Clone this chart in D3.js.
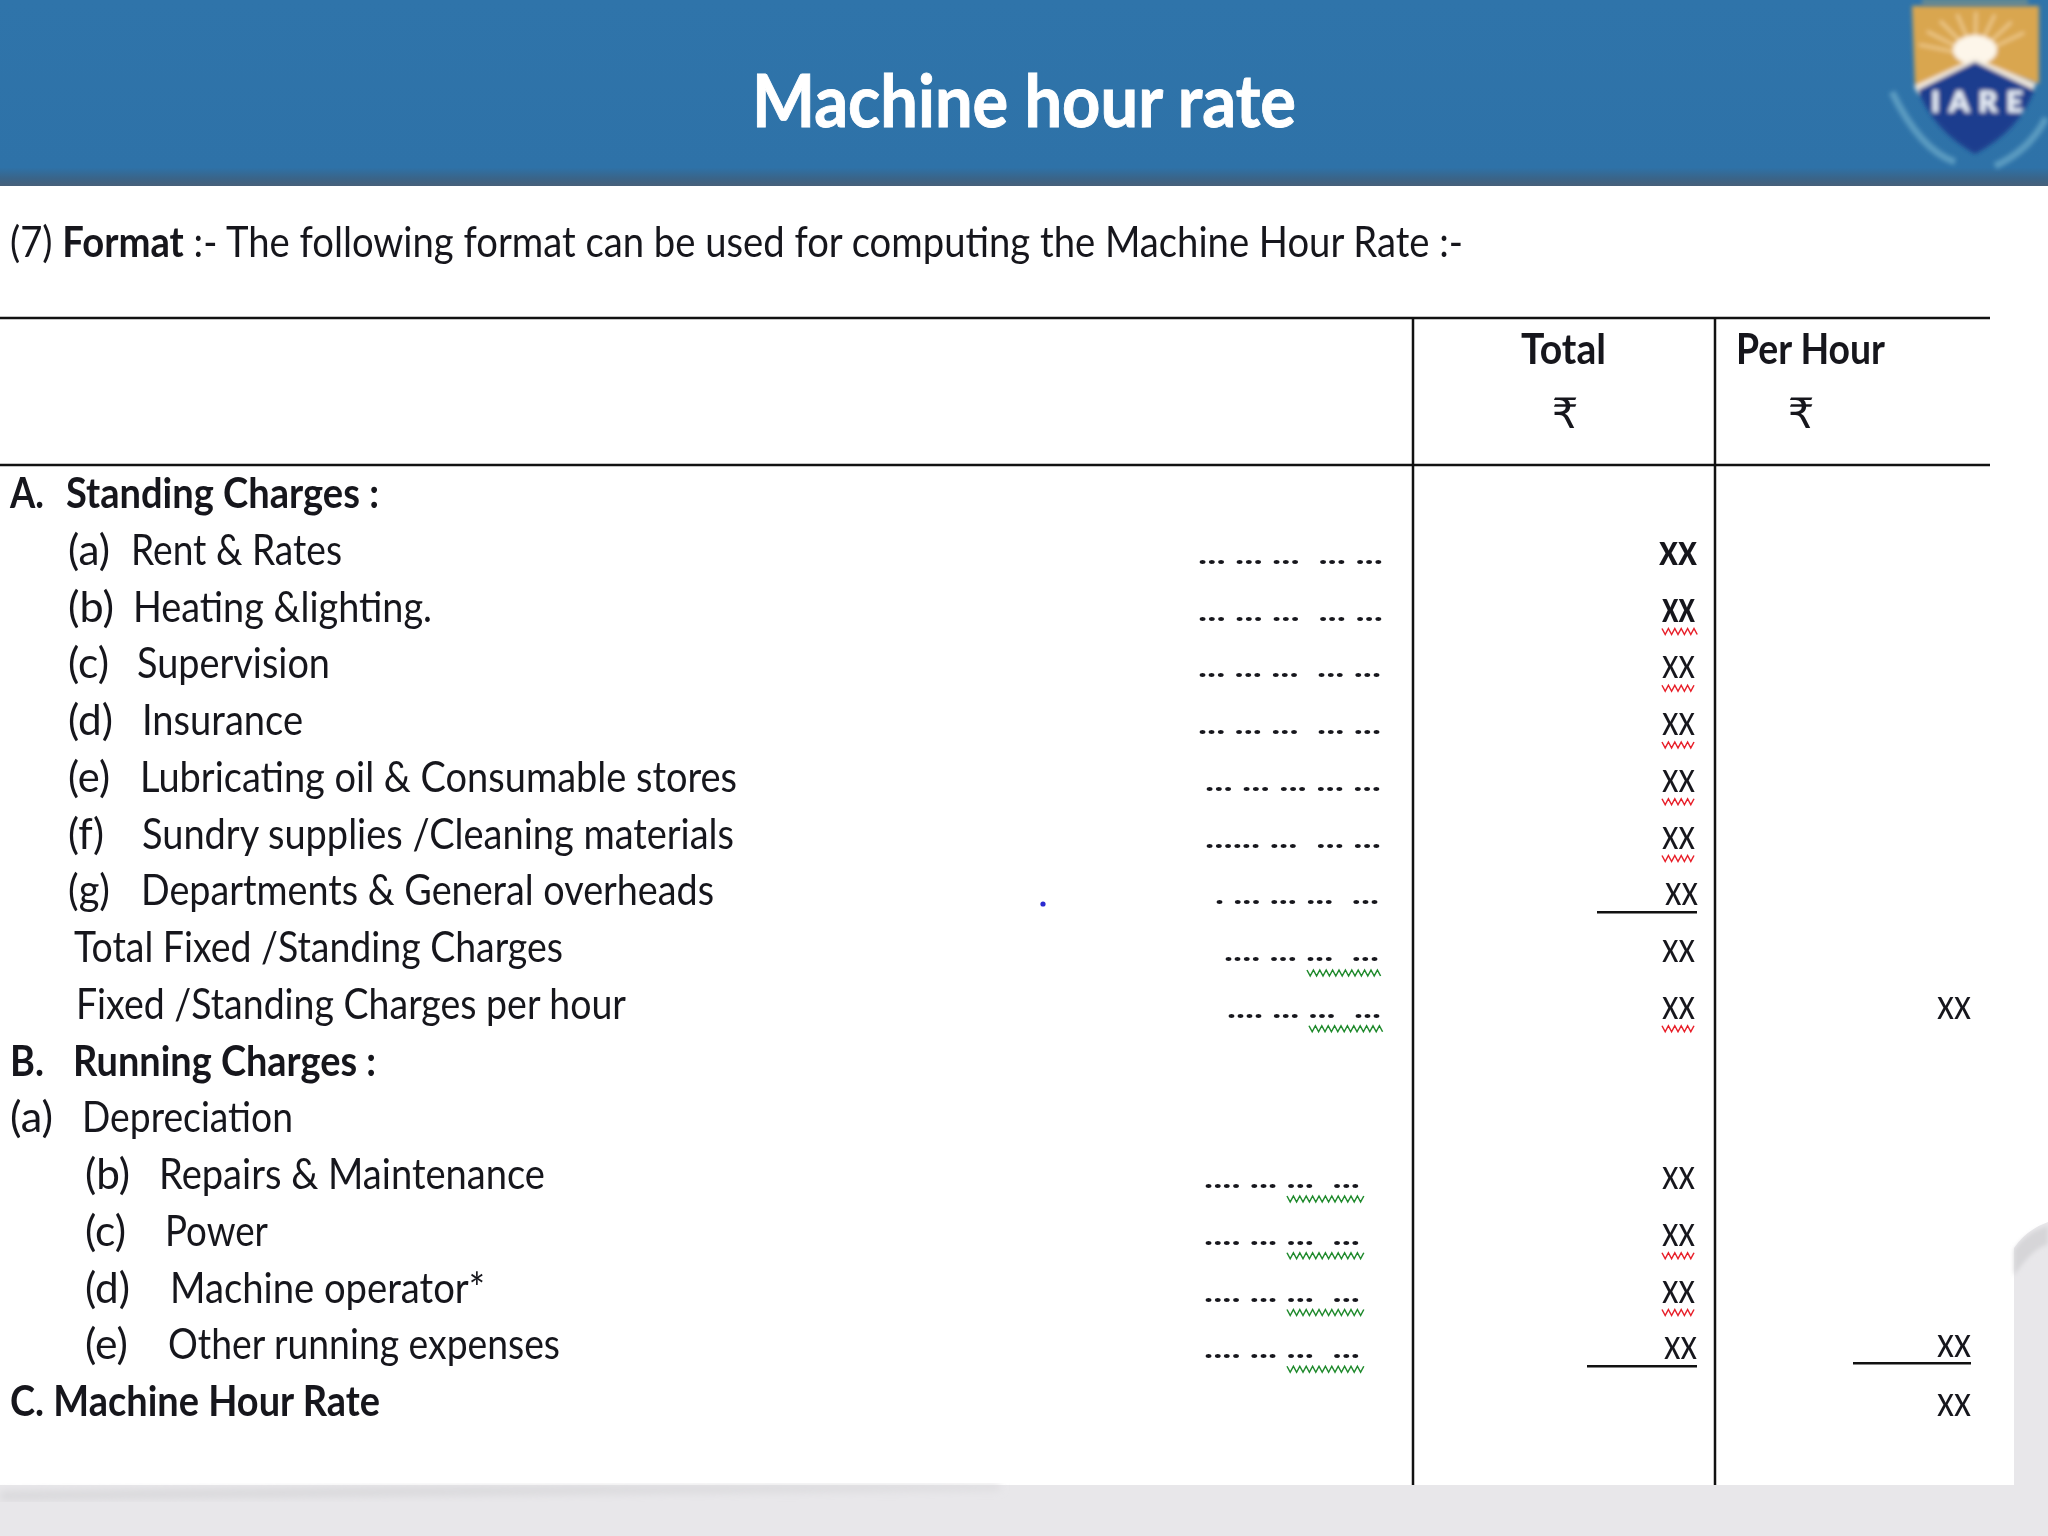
<!DOCTYPE html>
<html>
<head>
<meta charset="utf-8">
<script src="https://cdn.jsdelivr.net/npm/d3@7"></script>
<style>
    html, body { margin: 0; padding: 0; background: #e8e7ea; }
    svg { display: block; }
    text { font-family: Lato, "Noto Sans", sans-serif; fill: #16161c; filter: blur(0.4px); }
</style>
</head>
<body>
<div id="chart"></div>
<script>
const slideTitle = "Machine hour rate";
const columnHeads = ["Total", "Per Hour"];
const currencySign = "₹";

const rowMarkers = ["A.", "(a)", "(b)", "(c)", "(d)", "(e)", "(f)", "(g)", "", "", "B.", "(a)", "(b)", "(c)", "(d)", "(e)", ""];
const rowLabels = [
    "Standing Charges :", "Rent & Rates", "Heating &lighting.", "Supervision", "Insurance",
    "Lubricating oil & Consumable stores", "Sundry supplies /Cleaning materials",
    "Departments & General overheads", "Total Fixed /Standing Charges",
    "Fixed /Standing Charges per hour", "Running Charges :", "Depreciation",
    "Repairs & Maintenance", "Power", "Machine operator*", "Other running expenses",
    "C. Machine Hour Rate"
];
const boldRows = [0, 10, 16];
const dotLeaders = [
    "", "... ... ...  ... ...", "... ... ...  ... ...", "... ... ...  ... ...", "... ... ...  ... ...",
    "... ... ... ... ...", "...... ...  ... ...", ". ... ... ...  ...", ".... ... ...  ...", ".... ... ...  ...",
    "", "", ".... ... ...  ...", ".... ... ...  ...", ".... ... ...  ...", ".... ... ...  ...", ""
];
const totalValues = ["", "xx", "xx", "xx", "xx", "xx", "xx", "xx", "xx", "xx", "", "", "xx", "xx", "xx", "xx", ""];
const perHourValues = ["", "", "", "", "", "", "", "", "", "xx", "", "", "", "", "", "xx", "xx"];
const redSquiggleRows = [2, 3, 4, 5, 6, 9, 13, 14];
const greenSquiggleRows = [8, 9, 12, 13, 14, 15];

// layout
const width = 2048, height = 1536;
const markerX = [10, 68, 68, 68, 68, 68, 68, 68, 0, 0, 10, 10, 85, 85, 85, 85, 0];
const markerEnd = [44, 110, 114, 109, 113, 110, 104, 110, 0, 0, 44, 53, 130, 126, 130, 128, 0];
const labelX = [66, 131, 133, 137, 142, 140, 142, 141, 74, 76, 73, 82, 159, 165, 170, 168, 10];
const labelEnd = [379, 342, 432, 330, 303, 737, 734, 714, 563, 626, 376, 293, 545, 268, 485, 560, 380];
const dotX = [0, 1198, 1198, 1198, 1198, 1205, 1205, 1215, 1224, 1227, 0, 0, 1204, 1204, 1204, 1204, 0];
const dotEnd = [0, 1383, 1383, 1381, 1381, 1381, 1381, 1379, 1379, 1381, 0, 0, 1360, 1360, 1360, 1360, 0];

const y = d3.scaleLinear().domain([0, 16]).range([508, 1416]);

const svg = d3.select("#chart")
    .append("svg")
    .attr("width", width)
    .attr("height", height);

const defs = svg.append("defs");
const headGrad = defs.append("linearGradient").attr("id", "head").attr("x1", 0).attr("x2", 0).attr("y1", 0).attr("y2", 1);
headGrad.append("stop").attr("offset", 0).attr("stop-color", "#2f74aa");
headGrad.append("stop").attr("offset", 0.9).attr("stop-color", "#2e72a8");
headGrad.append("stop").attr("offset", 0.96).attr("stop-color", "#3a6488");
headGrad.append("stop").attr("offset", 1).attr("stop-color", "#47607a");
defs.append("filter").attr("id", "soft").append("feGaussianBlur").attr("stdDeviation", 2.2);
defs.append("filter").attr("id", "softer").append("feGaussianBlur").attr("stdDeviation", 4);

// slide background
svg.append("rect").attr("width", width).attr("height", height).attr("fill", "#e8e7ea");
svg.append("rect").attr("y", 180).attr("width", 2014).attr("height", 1305).attr("fill", "#ffffff");
svg.append("path")
    .attr("d", "M2014,180 H2048 V1222 Q2026,1230 2014,1248 Z")
    .attr("fill", "#ffffff");
svg.append("path")
    .attr("d", "M2014,1250 Q2026,1232 2048,1226 V1244 Q2030,1250 2014,1276 Z")
    .attr("fill", "#d6d5d8")
    .attr("filter", "url(#soft)");
svg.append("path")
    .attr("d", "M0,1492 Q500,1486 1000,1485 L1000,1489 Q500,1494 0,1500 Z")
    .attr("fill", "#d6d5d8")
    .attr("filter", "url(#softer)");

// header band
svg.append("rect").attr("width", width).attr("height", 186).attr("fill", "url(#head)");
svg.append("text")
    .attr("x", 1024).attr("y", 127)
    .attr("text-anchor", "middle")
    .attr("font-size", 72).attr("font-weight", 700)
    .attr("textLength", 544).attr("lengthAdjust", "spacingAndGlyphs")
    .style("fill", "#ffffff")
    .style("stroke", "#ffffff").style("stroke-width", 0.9)
    .text(slideTitle);

// logo
const logo = svg.append("g").attr("filter", "url(#soft)");
logo.append("path")
    .attr("d", "M1892,92 Q1920,150 1955,162 M1995,166 Q2030,150 2046,118")
    .attr("fill", "none").attr("stroke", "#6aa8c8").attr("stroke-width", 7).attr("opacity", 0.75);
logo.append("rect").attr("x", 1922).attr("y", 0).attr("width", 106).attr("height", 3).attr("fill", "#8a9a80");
logo.append("path").attr("d", "M1912,6 H2039 V84 L1975,60 L1915,88 Z").attr("fill", "#d9a650");
d3.range(-75, 76, 19).forEach(a => {
    const r = a * Math.PI / 180;
    logo.append("line")
        .attr("x1", 1975).attr("y1", 56)
        .attr("x2", 1975 + 58 * Math.sin(r)).attr("y2", 56 - 44 * Math.cos(r))
        .attr("stroke", "#eec98a").attr("stroke-width", 3);
});
logo.append("ellipse").attr("cx", 1975).attr("cy", 50).attr("rx", 22).attr("ry", 15).attr("fill", "#fdf6ea");
logo.append("path").attr("d", "M1914,86 L1975,58 L2036,84 L2032,92 L1975,66 L1918,94 Z").attr("fill", "#f4ecdf");
logo.append("path").attr("d", "M1918,90 L1975,62 L2034,90 Q2020,130 1975,154 Q1933,130 1918,90 Z").attr("fill", "#1c3d8e");
logo.append("text")
    .attr("x", 1977).attr("y", 112)
    .attr("text-anchor", "middle")
    .attr("font-size", 29).attr("font-weight", 900)
    .attr("textLength", 92).attr("lengthAdjust", "spacing")
    .style("fill", "#e6ecf4")
    .style("stroke", "#e6ecf4").style("stroke-width", 1)
    .text("IARE");

// intro line
const intro = svg.append("text")
    .attr("x", 10).attr("y", 257)
    .attr("font-size", 42)
    .attr("textLength", 1453).attr("lengthAdjust", "spacingAndGlyphs");
intro.append("tspan").text("(7) ");
intro.append("tspan").attr("font-weight", 700).text("Format");
intro.append("tspan").text(" :- The following format can be used for computing the Machine Hour Rate :-");

// table rules
const rules = [[0, 318, 1990, 318], [0, 465, 1990, 465], [1413, 318, 1413, 1485], [1715, 318, 1715, 1485]];
svg.selectAll("line.rule")
    .data(rules)
    .enter()
    .append("line")
    .attr("class", "rule")
    .attr("x1", d => d[0]).attr("y1", d => d[1])
    .attr("x2", d => d[2]).attr("y2", d => d[3])
    .attr("stroke", "#111111")
    .attr("stroke-width", 2.5);

// column heads
svg.selectAll("text.head")
    .data(columnHeads)
    .enter()
    .append("text")
    .attr("class", "head")
    .attr("x", (d, i) => [1521, 1736][i])
    .attr("y", 364)
    .attr("font-size", 42).attr("font-weight", 700)
    .attr("textLength", (d, i) => [85, 149][i]).attr("lengthAdjust", "spacingAndGlyphs")
    .text(d => d);
svg.selectAll("text.rupee")
    .data(columnHeads)
    .enter()
    .append("text")
    .attr("class", "rupee")
    .attr("x", (d, i) => [1565, 1801][i])
    .attr("y", 428)
    .attr("text-anchor", "middle")
    .attr("font-size", 42)
    .style("font-family", "'DejaVu Sans', sans-serif")
    .text(currencySign);

// row text
function stretched(sel, fromX, toX) {
    return sel
        .attr("x", (d, i) => fromX[d.i])
        .attr("textLength", d => toX[d.i] - fromX[d.i])
        .attr("lengthAdjust", "spacingAndGlyphs");
}

const rows = rowLabels.map((label, i) => ({ i, label, marker: rowMarkers[i], dots: dotLeaders[i] }));

stretched(svg.selectAll("text.marker").data(rows.filter(d => d.marker)).enter().append("text")
    .attr("class", "marker")
    .attr("y", d => y(d.i))
    .attr("font-size", 42)
    .attr("font-weight", d => boldRows.includes(d.i) ? 700 : 400)
    .text(d => d.marker), markerX, markerEnd);

stretched(svg.selectAll("text.label").data(rows).enter().append("text")
    .attr("class", "label")
    .attr("y", d => y(d.i))
    .attr("font-size", 42)
    .attr("font-weight", d => boldRows.includes(d.i) ? 700 : 400)
    .text(d => d.label), labelX, labelEnd);

stretched(svg.selectAll("text.dots").data(rows.filter(d => d.dots)).enter().append("text")
    .attr("class", "dots")
    .attr("y", d => y(d.i) - 1)
    .attr("font-size", 27).attr("font-weight", 700)
    .style("white-space", "pre")
    .text(d => d.dots), dotX, dotEnd);

// amount cells
const totalX = i => i === 1 ? 1659 : i === 7 ? 1665 : i === 15 ? 1664 : 1662;
svg.selectAll("text.total")
    .data(totalValues.map((v, i) => ({ v, i })).filter(d => d.v))
    .enter()
    .append("text")
    .attr("class", "total")
    .attr("x", d => totalX(d.i))
    .attr("y", d => y(d.i))
    .attr("font-size", 43)
    .attr("font-weight", d => d.i <= 2 ? 700 : 400)
    .attr("textLength", d => d.i === 1 ? 38 : 33).attr("lengthAdjust", "spacingAndGlyphs")
    .text(d => d.v);
svg.selectAll("text.perhour")
    .data(perHourValues.map((v, i) => ({ v, i })).filter(d => d.v))
    .enter()
    .append("text")
    .attr("class", "perhour")
    .attr("x", 1937)
    .attr("y", d => y(d.i) - (d.i === 15 ? 2 : 0))
    .attr("font-size", 43)
    .attr("textLength", 34).attr("lengthAdjust", "spacingAndGlyphs")
    .text(d => d.v);

// subtotal rules
const subtotalRules = [[1597, 1697, 7, 7], [1587, 1697, 15, 7], [1853, 1971, 15, 4]];
svg.selectAll("line.sub")
    .data(subtotalRules)
    .enter()
    .append("line")
    .attr("class", "sub")
    .attr("x1", d => d[0]).attr("x2", d => d[1])
    .attr("y1", d => y(d[2]) + d[3]).attr("y2", d => y(d[2]) + d[3])
    .attr("stroke", "#111111")
    .attr("stroke-width", 2.5);

// spell-check squiggles
const zigzag = d3.line();
function squiggle(x0, x1, yMid) {
    const step = 3.2;
    const pts = d3.range(0, Math.floor((x1 - x0) / step) + 1)
        .map(k => [x0 + k * step, yMid + (k % 2 ? 3 : -3)]);
    return zigzag(pts);
}
svg.selectAll("path.red")
    .data(redSquiggleRows)
    .enter()
    .append("path")
    .attr("class", "red")
    .attr("d", d => squiggle(1662, d === 2 ? 1700 : 1695, y(d) + 10))
    .attr("fill", "none").attr("stroke", "#e8202a").attr("stroke-width", 1.5);
svg.selectAll("path.green")
    .data(greenSquiggleRows)
    .enter()
    .append("path")
    .attr("class", "green")
    .attr("d", d => d >= 12 ? squiggle(1287, 1364, y(d) + 10)
        : d === 8 ? squiggle(1307, 1383, y(d) + 11) : squiggle(1309, 1385, y(d) + 10))
    .attr("fill", "none").attr("stroke", "#1f8a2c").attr("stroke-width", 1.5);

// stray blue speck
svg.append("circle").attr("cx", 1043).attr("cy", 904).attr("r", 2.6).attr("fill", "#2a2ad0");
</script>
</body>
</html>
